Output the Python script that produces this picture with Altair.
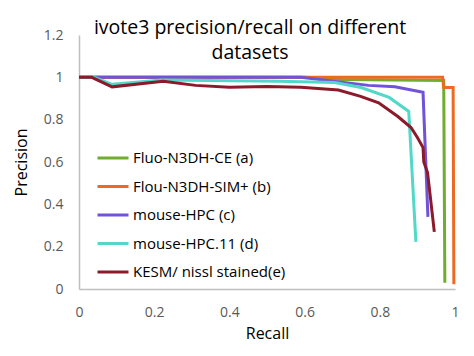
import altair as alt
import pandas as pd

series_names = ["Fluo-N3DH-CE (a)", "Flou-N3DH-SIM+ (b)", "mouse-HPC (c)",
                "mouse-HPC.11 (d)", "KESM/ nissl stained(e)"]
colors = ["#70AD2F", "#ED6A22", "#7153D8", "#52D8C8", "#8B1A2A"]

green_x = [0, 0.6, 0.7, 0.97, 0.973]
green_y = [1, 1, 0.99, 0.985, 0.03]

orange_x = [0, 0.967, 0.97, 0.995, 0.997]
orange_y = [1, 1, 0.952, 0.952, 0.022]

purple_x = [0, 0.59, 0.77, 0.84, 0.915, 0.928]
purple_y = [1, 1, 0.962, 0.955, 0.929, 0.341]

cyan_x = [0, 0.04, 0.088, 0.22, 0.53, 0.68, 0.75, 0.825, 0.877, 0.896]
cyan_y = [1, 1, 0.967, 0.987, 0.982, 0.976, 0.952, 0.905, 0.839, 0.223]

red_x = [0, 0.034, 0.088, 0.224, 0.31, 0.40, 0.50, 0.59, 0.69, 0.749, 0.797,
         0.848, 0.883, 0.90, 0.915, 0.917, 0.927, 0.945]
red_y = [1, 1, 0.955, 0.981, 0.962, 0.953, 0.957, 0.953, 0.94, 0.91, 0.88,
         0.815, 0.763, 0.716, 0.668, 0.60, 0.55, 0.27]

x_ticks = [0, 0.2, 0.4, 0.6, 0.8, 1]
y_ticks = [0, 0.2, 0.4, 0.6, 0.8, 1, 1.2]

rows = []
for name, xs, ys in zip(series_names,
                        [green_x, orange_x, purple_x, cyan_x, red_x],
                        [green_y, orange_y, purple_y, cyan_y, red_y]):
    for i, (x, y) in enumerate(zip(xs, ys)):
        rows.append({"series": name, "recall": x, "precision": y, "order": i})
df = pd.DataFrame(rows)

font = "Open Sans"

chart = alt.Chart(df).mark_line(strokeWidth=3).encode(
    x=alt.X("recall:Q", title="Recall",
            scale=alt.Scale(domain=[0, 1], nice=False),
            axis=alt.Axis(values=x_ticks, format="~g", grid=False, ticks=False,
                          domainColor="#BFBFBF", domainWidth=1.5,
                          labelColor="#595959", labelFontSize=14, labelFont=font,
                          labelPadding=16, titleFont=font, titleFontSize=16,
                          titleFontWeight="normal", titleColor="#000000",
                          titlePadding=6, labelFlush=False)),
    y=alt.Y("precision:Q", title="Precision",
            scale=alt.Scale(domain=[0, 1.2], nice=False),
            axis=alt.Axis(values=y_ticks, format="~g", grid=False, ticks=False,
                          domainColor="#BFBFBF", domainWidth=1.5,
                          labelColor="#595959", labelFontSize=14, labelFont=font,
                          labelPadding=16, titleFont=font, titleFontSize=16,
                          titleFontWeight="normal", titleColor="#000000",
                          titlePadding=14, labelFlush=False)),
    color=alt.Color("series:N", sort=series_names,
                    scale=alt.Scale(domain=series_names, range=colors),
                    legend=alt.Legend(title=None, orient="none", legendX=17, legendY=106,
                                      symbolType="stroke", symbolSize=961,
                                      symbolStrokeWidth=3, labelFont=font,
                                      labelFontSize=15, labelColor="#000000",
                                      labelOffset=3, rowPadding=3.5)),
    order="order:Q",
).properties(
    width=376, height=254,
    title=alt.TitleParams(["ivote3 precision/recall on different", "datasets"],
                          font=font, fontSize=19.5, fontWeight="normal",
                          color="#000000", anchor="middle", dx=-17, dy=35,
                          lineHeight=25, offset=0),
    padding={"left": 79, "top": 35, "right": 19, "bottom": 67},
    autosize="none",
).configure_view(stroke=None)

chart.save("out.html", embed_options={"renderer": "svg", "actions": False})
